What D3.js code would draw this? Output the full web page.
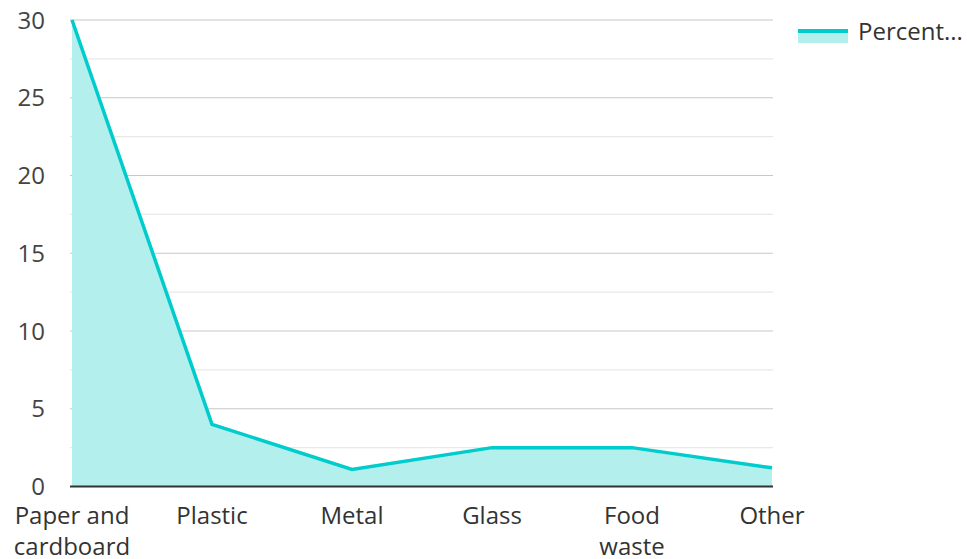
<!DOCTYPE html>
<html><head><meta charset="utf-8">
<script src="https://cdn.jsdelivr.net/npm/d3@7"></script>
<style>body{margin:0;background:#fff;} text{font-family:"Open Sans",sans-serif;}</style>
</head><body><svg id="c" width="967" height="559"></svg>
<script>
const categories = ["Paper and cardboard","Plastic","Metal","Glass","Food waste","Other"];
const categoryLines = [["Paper and","cardboard"],["Plastic"],["Metal"],["Glass"],["Food","waste"],["Other"]];
const values = [30, 4, 1.1, 2.5, 2.5, 1.2];
const yTicks = [0,5,10,15,20,25,30];
const yMinorTicks = [2.5,7.5,12.5,17.5,22.5,27.5];
const seriesName = "Percent...";

const svg = d3.select("#c");
const pLeft = 72, pRight = 772, pTop = 20, pBottom = 486.5;
const x = d3.scalePoint().domain(categories).range([pLeft, pRight]).padding(0);
const y = d3.scaleLinear().domain([0,30]).range([pBottom, pTop]);
const fs = 24;

// minor grid
svg.append("g").selectAll("line").data(yMinorTicks).join("line")
  .attr("x1", pLeft-2).attr("x2", pRight+1).attr("y1", d=>y(d)).attr("y2", d=>y(d))
  .attr("stroke","#e8e8e8").attr("stroke-width",1.2);
// major grid
svg.append("g").selectAll("line").data(yTicks.filter(d=>d>0)).join("line")
  .attr("x1", pLeft-2).attr("x2", pRight+1).attr("y1", d=>y(d)).attr("y2", d=>y(d))
  .attr("stroke","#c8c8c8").attr("stroke-width",1.2);

// area
const area = d3.area().x((d,i)=>x(categories[i])).y0(y(0)).y1(d=>y(d));
svg.append("path").datum(values).attr("d", area).attr("fill","#b2efed");
const line = d3.line().x((d,i)=>x(categories[i])).y(d=>y(d));
svg.append("path").datum(values).attr("d", line).attr("fill","none")
  .attr("stroke","#00cccc").attr("stroke-width",3.5).attr("stroke-linejoin","miter");

// baseline
svg.append("line").attr("x1", pLeft-2).attr("x2", pRight+1).attr("y1", y(0)).attr("y2", y(0))
  .attr("stroke","#333").attr("stroke-width",2);

// y labels
svg.append("g").selectAll("text").data(yTicks).join("text")
  .attr("x", 45).attr("y", d=>y(d)).attr("dy","0.36em").attr("text-anchor","end")
  .attr("font-size", fs).attr("fill","#444").text(d=>d);

// x labels
const xl = svg.append("g").selectAll("text").data(categories).join("text")
  .attr("x", d=>x(d)).attr("y", 524).attr("text-anchor","middle")
  .attr("font-size", fs).attr("fill","#333");
xl.each(function(d,i){
  const t = d3.select(this);
  categoryLines[i].forEach((s,j)=>{
    t.append("tspan").attr("x", x(d)).attr("dy", j===0?0:31).text(s);
  });
});

// legend
svg.append("rect").attr("x",798).attr("y",33).attr("width",50).attr("height",10).attr("fill","#b2efed");
svg.append("line").attr("x1",798).attr("x2",848).attr("y1",31).attr("y2",31).attr("stroke","#00cccc").attr("stroke-width",4);
svg.append("text").attr("x",858).attr("y",39.5).attr("font-size",fs).attr("fill","#333").text(seriesName);
</script></body></html>
